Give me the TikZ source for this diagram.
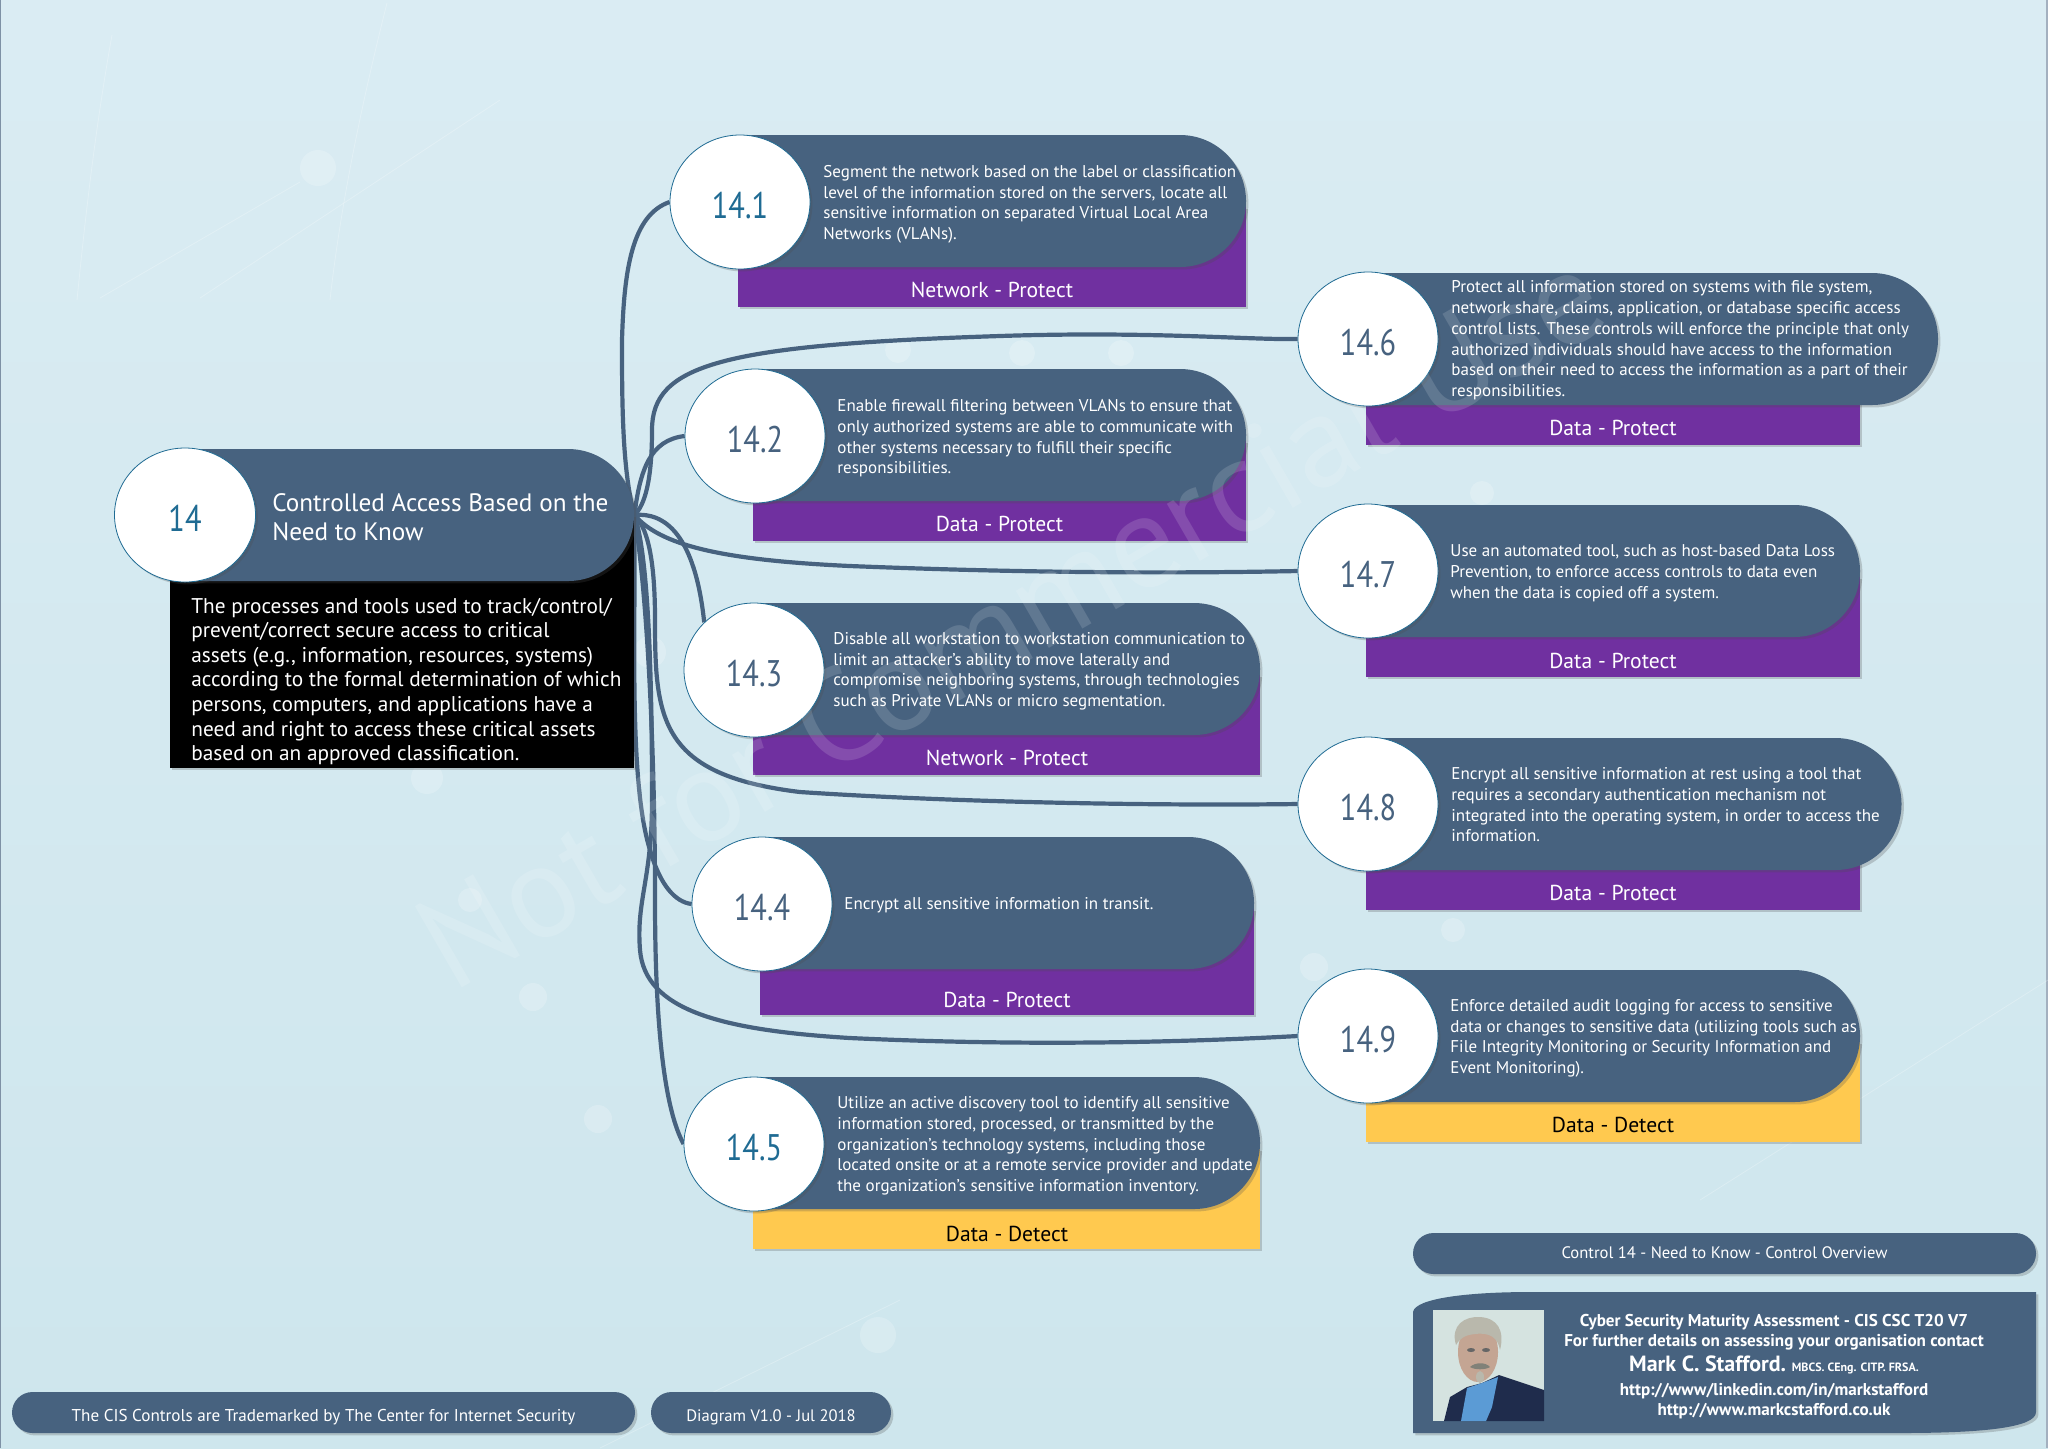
\documentclass[tikz,border=0pt]{standalone}
\usepackage{fontspec}
\setmainfont{PT Sans}
\newfontfamily\numfont[FakeStretch=0.82]{PT Sans}
\usetikzlibrary{shapes.geometric,shapes.misc,shadows}
\pgfdeclarelayer{back}
\pgfdeclarelayer{links}
\pgfsetlayers{back,links,main}
\definecolor{bgtop}{HTML}{DAECF3}
\definecolor{bgbot}{HTML}{CEE6ED}
\definecolor{slate}{HTML}{47627F}
\definecolor{tealnum}{HTML}{1F6B93}
\definecolor{violet}{HTML}{7030A0}
\definecolor{amber}{HTML}{FFC94F}
\definecolor{jacket}{HTML}{1F2C4C}
\definecolor{shirt}{HTML}{5B9BD5}
\definecolor{face}{HTML}{C4A593}
\definecolor{hair}{HTML}{B9B8AC}
\definecolor{wall}{HTML}{D5E3E0}
\tikzset{
  softshadow/.style={drop shadow={shadow xshift=1.2pt,shadow yshift=-1.2pt,opacity=.25,fill=black!70}},
  disc/.style={ellipse,fill=white,draw=tealnum,line width=.4pt,minimum width=70pt,minimum height=67pt,inner sep=0pt,text height=16pt,text depth=0pt,softshadow,text=slate,font=\numfont\fontsize{18.5}{18.5}\selectfont},
  discb/.style={disc,text=tealnum},
  pill/.style={rounded rectangle,rounded rectangle west arc=none,fill=slate,minimum height=66pt,inner sep=0pt,softshadow},
  tagbox/.style={rectangle,minimum height=50pt,inner sep=0pt,softshadow},
  tagtext/.style={yshift=-.5pt,text=white,font=\fontsize{10.8}{12}\selectfont},
  cardtext/.style={yshift=-1.2pt,anchor=west,align=left,inner sep=0pt,text=white,font=\fontsize{8.5}{10.35}\selectfont},
  footpill/.style={rounded rectangle,fill=slate,minimum height=20.5pt,inner sep=0pt,softshadow,text=white,text height=7.5pt,text depth=2.3pt,font=\fontsize{8.3}{10}\selectfont},
  footlow/.style={footpill,text height=11pt,text depth=2pt},
  link/.style={draw=slate,line width=2.1pt},
  speck/.style={fill=white,opacity=.2},
  crack/.style={draw=white,line width=.4pt,opacity=.25}
}
\begin{document}
\begin{tikzpicture}[x=0.5pt,y=-0.5pt]
\useasboundingbox (0,0) rectangle (2048,1448);
\begin{pgfonlayer}{back}
\shade[top color=bgtop,bottom color=bgbot] (0,0) rectangle (2048,1448);
\draw[draw=slate!70,line width=.8pt] (0,0) -- (0,1448);
\draw[draw=slate!50,line width=.8pt] (2047,0) -- (2047,1448);
% background specks
\fill[speck] (318,168) circle (18);
\fill[speck] (533,997) circle (14);
\fill[speck] (598,1119) circle (14);
\fill[speck] (878,1335) circle (18);
\fill[speck] (1314,967) circle (14);
\fill[speck] (898,350) circle (13);
\fill[speck] (1022,353) circle (13);
\fill[speck] (1121,353) circle (13);
\fill[speck] (1482,493) circle (12);
\fill[speck] (1453,930) circle (12);
\fill[speck] (470,900) circle (12);
\fill[speck] (427,778) circle (16);
\fill[speck] (650,652) circle (16);
\draw[crack] (112,35) .. controls (95,130) and (85,220) .. (77,300);
\draw[crack] (387,3) .. controls (360,110) and (340,210) .. (330,300);
\draw[crack] (100,298) -- (300,182);
\draw[crack] (200,298) -- (500,100);
\draw[crack] (600,1448) -- (900,1300);
\draw[crack] (1700,1200) -- (2048,980);
\end{pgfonlayer}
% tags
\node[tagbox,fill=black,minimum width=232pt,minimum height=126.5pt] (d14) at (402,641.5) {};
\node[tagbox,fill=violet,minimum width=254pt] (g141) at (992,257) {};
\node[tagbox,fill=violet,minimum width=246.5pt] (g142) at (999.5,491) {};
\node[tagbox,fill=violet,minimum width=253.5pt] (g143) at (1006.5,725) {};
\node[tagbox,fill=violet,minimum width=247pt,minimum height=53pt] (g144) at (1007,962) {};
\node[tagbox,fill=amber,minimum width=253.5pt] (g145) at (1006.5,1199) {};
\node[tagbox,fill=violet,minimum width=247pt] (g146) at (1613,395) {};
\node[tagbox,fill=violet,minimum width=247pt] (g147) at (1613,627) {};
\node[tagbox,fill=violet,minimum width=247pt] (g148) at (1613,860) {};
\node[tagbox,fill=amber,minimum width=247pt] (g149) at (1613,1092) {};
% pills
\node[pill,minimum width=224.5pt] (b14) at (409.5,515) {};
\node[pill,minimum width=253pt] (b141) at (993,201) {};
\node[pill,minimum width=245.5pt] (b142) at (1000.5,435) {};
\node[pill,minimum width=253pt] (b143) at (1007,669) {};
\node[pill,minimum width=246pt] (b144) at (1008,903) {};
\node[pill,minimum width=253pt] (b145) at (1007,1143) {};
\node[pill,minimum width=285pt] (b146) at (1653,339) {};
\node[pill,minimum width=246pt] (b147) at (1614,571) {};
\node[pill,minimum width=266.75pt] (b148) at (1634.75,804) {};
\node[pill,minimum width=246pt] (b149) at (1614,1036) {};
% discs
\node[discb,minimum width=70.5pt] (c14) at (185,515) {14};
\node[discb] (c141) at (740,202) {14.1};
\node[disc] (c142) at (755,436) {14.2};
\node[disc] (c143) at (754,670) {14.3};
\node[disc] (c144) at (762,904) {14.4};
\node[discb] (c145) at (754,1144) {14.5};
\node[disc] (c146) at (1368,339) {14.6};
\node[disc] (c147) at (1368,571) {14.7};
\node[disc] (c148) at (1368,804) {14.8};
\node[disc] (c149) at (1368,1036) {14.9};
% connectors
\begin{pgfonlayer}{links}
\draw[link] (b14.east) .. controls (622,470) and (622,400) .. (622,340) .. controls (624,270) and (632,215) .. (c141.west);
\draw[link] (b14.east) .. controls (645,505) and (652,480) .. (652,430) .. controls (652,365) and (720,345) .. (1000,336) .. controls (1150,331) and (1250,340) .. (c146.west);
\draw[link] (b14.east) .. controls (640,470) and (650,440) .. (c142.west);
\draw[link] (b14.east) .. controls (665,512) and (695,535) .. (c143.north west);
\draw[link] (b14.east) .. controls (660,545) and (720,560) .. (850,566) .. controls (1000,572) and (1150,574) .. (c147.west);
\draw[link] (b14.east) .. controls (650,530) and (655,570) .. (655,620) .. controls (655,720) and (660,775) .. (800,792) .. controls (950,802) and (1150,806) .. (c148.west);
\draw[link] (b14.east) .. controls (636,620) and (628,780) .. (650,850) .. controls (660,885) and (675,902) .. (c144.west);
\draw[link] (b14.east) .. controls (650,560) and (652,700) .. (652,800) .. controls (652,880) and (636,900) .. (640,950) .. controls (645,1010) and (720,1030) .. (850,1038) .. controls (1000,1045) and (1150,1044) .. (c149.west);
\draw[link] (b14.east) .. controls (648,600) and (655,760) .. (655,900) .. controls (655,1030) and (665,1110) .. (c145.west);
\end{pgfonlayer}
% main text
\node[cardtext,font=\fontsize{12.6}{14.5}\selectfont,yshift=.8pt] (t14) at (272,516) {Controlled Access Based on the\\Need to Know};
\node[cardtext,font=\fontsize{10.65}{12.3}\selectfont] (s14) at (191,679) {The processes and tools used to track/control/\\prevent/correct secure access to critical\\assets (e.g., information, resources, systems)\\according to the formal determination of which\\persons, computers, and applications have a\\need and right to access these critical assets\\based on an approved classification.};
% card text
\node[cardtext] (t141) at (823,202) {Segment the network based on the label or classification\\level of the information stored on the servers, locate all\\sensitive information on separated Virtual Local Area\\Networks (VLANs).};
\node[cardtext] (t142) at (837,436) {Enable firewall filtering between VLANs to ensure that\\only authorized systems are able to communicate with\\other systems necessary to fulfill their specific\\responsibilities.};
\node[cardtext] (t143) at (833,669) {Disable all workstation to workstation communication to\\limit an attacker's ability to move laterally and\\compromise neighboring systems, through technologies\\such as Private VLANs or micro segmentation.};
\node[cardtext] (t144) at (844,902.5) {Encrypt all sensitive information in transit.};
\node[cardtext] (t145) at (837,1143.5) {Utilize an active discovery tool to identify all sensitive\\information stored, processed, or transmitted by the\\organization's technology systems, including those\\located onsite or at a remote service provider and update\\the organization's sensitive information inventory.};
\node[cardtext] (t146) at (1451,338) {Protect all information stored on systems with file system,\\network share, claims, application, or database specific access\\control lists. These controls will enforce the principle that only\\authorized individuals should have access to the information\\based on their need to access the information as a part of their\\responsibilities.};
\node[cardtext] (t147) at (1450,571) {Use an automated tool, such as host-based Data Loss\\Prevention, to enforce access controls to data even\\when the data is copied off a system.};
\node[cardtext] (t148) at (1451,802.5) {Encrypt all sensitive information at rest using a tool that\\requires a secondary authentication mechanism not\\integrated into the operating system, in order to access the\\information.};
\node[cardtext] (t149) at (1450,1036) {Enforce detailed audit logging for access to sensitive\\data or changes to sensitive data (utilizing tools such as\\File Integrity Monitoring or Security Information and\\Event Monitoring).};
% tag labels
\node[tagtext] (l141) at (992,289) {Network - Protect};
\node[tagtext] (l142) at (999.5,523) {Data - Protect};
\node[tagtext] (l143) at (1007,757) {Network - Protect};
\node[tagtext] (l144) at (1007,999) {Data - Protect};
\node[tagtext,text=black] (l145) at (1007,1233) {Data - Detect};
\node[tagtext] (l146) at (1613,427) {Data - Protect};
\node[tagtext] (l147) at (1613,659.5) {Data - Protect};
\node[tagtext] (l148) at (1613,892) {Data - Protect};
\node[tagtext,text=black] (l149) at (1613,1124) {Data - Detect};
% footer
\node[footpill,minimum width=311.5pt] (over) at (1724.5,1253.5) {Control 14 - Need to Know - Control Overview};
\node[footlow,minimum width=311.5pt,font=\fontsize{8.55}{10}\selectfont] (mark) at (323.5,1412.5) {The CIS Controls are Trademarked by The Center for Internet Security};
\node[footlow,minimum width=120pt] (vers) at (771,1412.5) {Diagram V1.0 - Jul 2018};
\filldraw[fill=slate,draw=none,softshadow] (1413,1312) .. controls (1415,1298) and (1470,1292) .. (1530,1292) -- (2036,1292) -- (2036,1412) .. controls (2036,1428) and (1980,1433) .. (1900,1433) -- (1413,1433) --cycle; % contact box
% photo
\fill[fill=wall] (1433,1310) rectangle (1544,1421);
\fill[fill=jacket] (1444,1421) -- (1450,1397) -- (1467,1387) -- (1482,1383) -- (1499,1375) -- (1544,1390) -- (1544,1421) --cycle; % jacket
\fill[fill=shirt] (1461,1421) -- (1467,1388) -- (1482,1383) -- (1498,1377) -- (1492,1407) -- (1486,1421) --cycle; % shirt
\fill[fill=face] (1478,1352) ellipse (20 and 30); % face
\fill[fill=hair] (1456,1345) .. controls (1450,1325) and (1465,1316) .. (1480,1317) .. controls (1497,1318) and (1505,1330) .. (1500,1350) .. controls (1498,1338) and (1490,1332) .. (1475,1334) .. controls (1465,1335) and (1460,1338) .. (1456,1345) --cycle; % hair
\fill[fill=hair!70!black] (1470,1367) .. controls (1475,1362) and (1486,1362) .. (1490,1367) .. controls (1485,1370) and (1475,1370) .. (1470,1367) --cycle; % moustache
\fill[fill=hair] (1480,1377) ellipse (4 and 6); % goatee
\fill[fill=black!60] (1471,1350) ellipse (4 and 2);
\fill[fill=black!60] (1486,1350) ellipse (4 and 2);
\node[yshift=-1.3pt,align=center,inner sep=0pt,text=white,font=\bfseries\fontsize{8.55}{10.35}\selectfont] (cont) at (1774,1364) {Cyber Security Maturity Assessment - CIS CSC T20 V7\\For further details on assessing your organisation contact\\[2pt]{\fontsize{11}{12}\selectfont Mark C. Stafford.} {\fontsize{6}{6}\selectfont MBCS. CEng. CITP. FRSA.}\\[1.5pt]http://www/linkedin.com/in/markstafford\\http://www.markcstafford.co.uk};
% watermark
\node[rotate=30,text=white,text opacity=.14,font=\fontsize{66}{68}\selectfont] (stamp) at (1010,618) {Not for Commercial Use};
\end{tikzpicture}
\end{document}
